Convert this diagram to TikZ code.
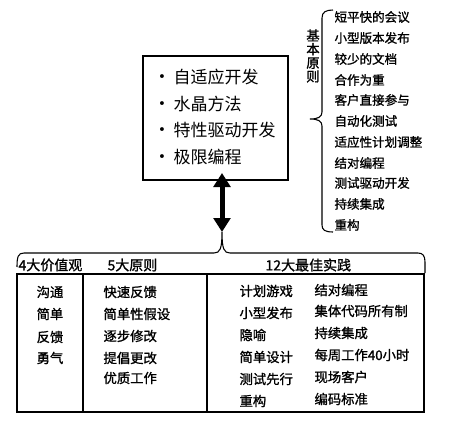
\documentclass[tikz,border=0pt]{standalone}
\usepackage{fontspec}
\setmainfont{Noto Sans CJK SC}
\newfontfamily\heavycjk[FakeBold=1.2]{Noto Sans CJK SC}
\newfontfamily\dotfont{DejaVu Sans}
\usetikzlibrary{arrows.meta}
\begin{document}
\begin{tikzpicture}[x=0.75pt,y=-0.75pt, line width=0.8pt,
  big/.style={font=\fontsize{12.75pt}{14pt}\selectfont, anchor=west, inner sep=0},
  dot/.style={font=\dotfont\fontsize{10pt}{14pt}\selectfont, inner sep=0},
  small/.style={font=\heavycjk\fontsize{9.4pt}{11pt}\selectfont, anchor=west, inner sep=0},
  cell/.style={font=\heavycjk\fontsize{10pt}{12pt}\selectfont, anchor=west, inner sep=0},
  cellc/.style={font=\heavycjk\fontsize{10pt}{12pt}\selectfont, inner sep=0},
  head/.style={font=\heavycjk\fontsize{10.5pt}{12pt}\selectfont, anchor=west, inner sep=0},
  bigarrow/.style={line width=3.75pt, {Triangle[width=12.5pt,length=10.5pt]}-{Triangle[width=12.5pt,length=10.5pt]}},
  ]
\useasboundingbox (0,0) rectangle (474,424);
% top box
\node[draw, minimum width=108.75pt, minimum height=93pt, inner sep=0] (top) at (215.5,118) {};
\node[dot] (d1) at (162,78) {•};
\node[dot] (d2) at (162,105) {•};
\node[dot] (d3) at (162,131) {•};
\node[dot] (d4) at (162,158) {•};
\node[big] (b1) at (173,77) {自适应开发};
\node[big] (b2) at (173,104) {水晶方法};
\node[big] (b3) at (173,130) {特性驱动开发};
\node[big] (b4) at (173,157) {极限编程};
% arrow
\coordinate (atop) at (222,173);
\coordinate (abot) at (222,232);
\draw[bigarrow] (abot) -- (atop);
% bottom brace
\draw (17,267) .. controls (17,257) and (18,253) .. (24,253) -- (214,253)
  .. controls (220,253) and (222,249) .. (abot)
  .. controls (222,249) and (224,253) .. (230,253) -- (418,253)
  .. controls (423,253) and (425,256) .. (425,262) -- (425,273);
% headers
\node[head] (h1) at (18,265) {4大价值观};
\node[head] (h2) at (107,265) {5大原则};
\node[head] (h3) at (265,265) {12大最佳实践};
% table
\draw (17,274) rectangle (424,412);
\draw (83,274) -- (83,412);
\draw (207,274) -- (207,412);
% column 1
\node[cellc] (v1) at (50,292) {沟通};
\node[cellc] (v2) at (50,314) {简单};
\node[cellc] (v3) at (50,337) {反馈};
\node[cellc] (v4) at (50,358) {勇气};
% column 2
\node[cell] (p1) at (103,292) {快速反馈};
\node[cell] (p2) at (103,314) {简单性假设};
\node[cell] (p3) at (103,336) {逐步修改};
\node[cell] (p4) at (103,358) {提倡更改};
\node[cell] (p5) at (103,378) {优质工作};
% column 3a
\node[cell] (q1) at (239,291) {计划游戏};
\node[cell] (q2) at (239,313) {小型发布};
\node[cell] (q3) at (239,335) {隐喻};
\node[cell] (q4) at (239,357) {简单设计};
\node[cell] (q5) at (239,379) {测试先行};
\node[cell] (q6) at (239,401) {重构};
% column 3b
\node[cell] (r1) at (314,290) {结对编程};
\node[cell] (r2) at (314,311) {集体代码所有制};
\node[cell] (r3) at (314,333) {持续集成};
\node[cell] (r4) at (314,355) {每周工作40小时};
\node[cell] (r5) at (314,377) {现场客户};
\node[cell] (r6) at (314,399) {编码标准};
% right brace
\coordinate (tip) at (310,119);
\draw (333,10) .. controls (326,10) and (322,12) .. (322,18) -- (322,112)
  .. controls (322,117) and (318,119) .. (tip)
  .. controls (318,119) and (322,121) .. (322,126) -- (322,225)
  .. controls (322,230) and (325,232) .. (333,232);
\node[font=\heavycjk\fontsize{10pt}{10.2pt}\selectfont, align=center, inner sep=0] (jb) at (313,56) {基\\本\\原\\则};
% right list
\node[small] (s1) at (334,17) {短平快的会议};
\node[small] (s2) at (334,38) {小型版本发布};
\node[small] (s3) at (334,59) {较少的文档};
\node[small] (s4) at (334,80) {合作为重};
\node[small] (s5) at (334,100) {客户直接参与};
\node[small] (s6) at (334,121) {自动化测试};
\node[small] (s7) at (334,142) {适应性计划调整};
\node[small] (s8) at (334,163) {结对编程};
\node[small] (s9) at (334,183) {测试驱动开发};
\node[small] (s10) at (334,204) {持续集成};
\node[small] (s11) at (334,225) {重构};
\end{tikzpicture}
\end{document}
